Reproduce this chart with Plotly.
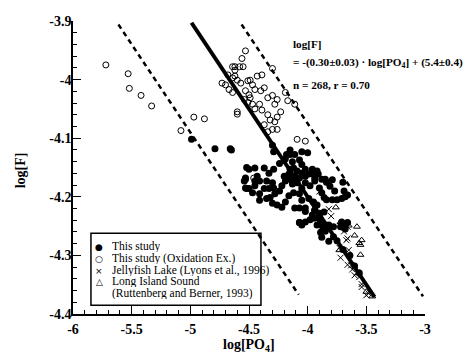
import plotly.graph_objects as go

# ---------------- data ----------------
this_study_x = [-4.99, -4.79, -4.65, -4.52, -4.53, -4.52, -4.66, -4.30, -4.29, -4.05, -4.00, -4.18, -4.15,
                -4.19, -4.15, -4.11, -4.13, -4.07, -4.05, -4.20, -4.24, -4.29, -4.33, -4.37, -4.45, -4.50,
                -4.53, -4.43, -4.41, -4.35, -4.30, -4.29, -4.33, -4.37, -4.41, -4.32, -4.28, -4.24, -4.22,
                -4.19, -4.20, -4.16, -4.15, -4.12, -4.09, -4.11, -4.15, -4.13, -4.09, -4.07, -4.05, -4.02,
                -3.99, -3.96, -3.92,
                -3.95, -3.91, -3.88, -3.84, -3.79, -3.70, -3.84, -3.79, -3.75, -3.71, -3.68,
                -4.02, -3.98, -3.94, -3.90, -3.88, -4.05, -4.07, -4.12, -4.16, -4.19, -4.22, -4.05,
                -3.99, -3.95, -3.92, -3.94, -3.90, -3.86, -3.96, -4.02, -4.07, -4.02, -3.98, -3.94, -3.89,
                -3.88, -3.92, -3.85, -3.89, -3.82, -3.78, -3.71, -3.68, -3.69, -3.66, -3.72, -3.88, -3.82,
                -4.54, -4.45, -4.50, -4.47, -4.35, -4.41, -4.30, -4.26, -4.53, -4.45, -4.11, -4.02, -3.94,
                -3.85, -3.81, -3.77, -3.69, -3.66, -3.86, -4.11, -4.07, -4.02, -3.94, -3.90, -3.95, -3.89,
                -3.85, -4.07, -4.05, -3.88, -3.71, -3.68,
                -3.64, -3.60, -3.70, -3.75, -3.78, -3.56]
this_study_y = [-4.102, -4.118, -4.120, -4.150, -4.170, -4.186, -4.118, -4.112, -4.123, -4.123, -4.125, -4.128, -4.128,
                -4.135, -4.120, -4.128, -4.140, -4.137, -4.145, -4.137, -4.143, -4.153, -4.160, -4.151, -4.151, -4.153,
                -4.168, -4.165, -4.173, -4.173, -4.176, -4.185, -4.186, -4.186, -4.195, -4.201, -4.195, -4.190, -4.181,
                -4.173, -4.165, -4.161, -4.153, -4.151, -4.156, -4.165, -4.170, -4.178, -4.176, -4.168, -4.160, -4.153,
                -4.161, -4.153, -4.156,
                -4.161, -4.161, -4.170, -4.175, -4.171, -4.175, -4.205, -4.205, -4.205, -4.203, -4.200,
                -4.176, -4.181, -4.173, -4.185, -4.193, -4.186, -4.195, -4.193, -4.198, -4.209, -4.218, -4.206,
                -4.203, -4.209, -4.214, -4.223, -4.228, -4.226, -4.231, -4.219, -4.244, -4.243, -4.239, -4.236, -4.239,
                -4.248, -4.248, -4.259, -4.261, -4.248, -4.251, -4.243, -4.248, -4.253, -4.244, -4.251, -4.269, -4.276,
                -4.173, -4.181, -4.186, -4.193, -4.203, -4.206, -4.211, -4.214, -4.185, -4.173, -4.168, -4.165, -4.168,
                -4.170, -4.182, -4.190, -4.190, -4.197, -4.201, -4.219, -4.219, -4.225, -4.223, -4.231, -4.236, -4.243,
                -4.248, -4.244, -4.248, -4.259, -4.248, -4.255,
                -4.300, -4.318, -4.290, -4.275, -4.268, -4.330]

oxidation_x = [-4.53, -4.56, -4.62, -4.64, -4.58, -4.55, -4.62, -4.68, -4.73, -4.70, -4.67, -4.64, -4.60,
               -4.57, -4.62, -4.64, -4.51, -4.49, -4.47, -4.43, -4.39, -4.30, -4.45, -4.40, -4.37, -4.53,
               -4.50, -4.49, -4.54, -4.51, -4.47, -4.45, -4.34, -4.30, -4.26, -4.28, -4.60, -4.41, -4.39,
               -4.34, -4.32, -4.28, -4.26, -4.23, -4.30, -4.26, -4.19, -4.17, -4.11, -4.37, -4.34, -4.02,
               -4.09, -5.08, -4.97, -4.88, -4.60, -5.72, -5.53, -5.52, -5.42, -5.33, -4.46]
oxidation_y = [-3.951, -3.964, -3.978, -3.978, -3.978, -3.978, -3.984, -3.992, -4.006, -4.009, -4.017, -4.022, -4.001,
               -4.006, -3.994, -3.997, -4.002, -4.001, -4.009, -3.994, -3.992, -3.981, -4.017, -4.019, -4.014, -4.019,
               -4.026, -4.031, -4.034, -4.039, -4.042, -4.050, -4.031, -4.027, -4.034, -4.042, -4.055, -4.042, -4.052,
               -4.060, -4.069, -4.072, -4.064, -4.055, -4.085, -4.085, -4.022, -4.036, -4.042, -4.077, -4.089, -4.105,
               -4.102, -4.087, -4.064, -4.067, -4.059, -3.975, -3.990, -4.015, -4.027, -4.045, -4.168]

jellyfish_x = [-3.90, -3.80, -3.71, -3.66, -3.69, -3.66, -3.65, -3.66, -3.62, -3.58, -3.56, -3.54,
               -3.54, -3.50, -3.60, -3.67, -3.63, -3.73, -3.72, -3.48, -3.82]
jellyfish_y = [-4.191, -4.233, -4.249, -4.251, -4.259, -4.271, -4.291, -4.316, -4.324, -4.329, -4.337, -4.349,
               -4.354, -4.368, -4.334, -4.274, -4.317, -4.287, -4.304, -4.365, -4.221]

lis_x = [-3.76, -3.65, -3.60, -3.56, -3.55, -3.69, -3.45, -3.50, -3.72, -3.58, -3.54, -3.55, -3.73]
lis_y = [-4.218, -4.249, -4.266, -4.279, -4.299, -4.291, -4.370, -4.362, -4.243, -4.251, -4.274, -4.282, -4.291]

# regression line and the two dashed bounds (end points)
fit_x = [-4.99, -3.43]
fit_y = [-3.903, -4.371]
lower_x = [-5.613, -4.077]
lower_y = [-3.906, -4.367]
upper_x = [-4.563, -3.017]
upper_y = [-3.906, -4.370]

x_ticks = [-6, -5.5, -5, -4.5, -4, -3.5, -3]
y_ticks = [-3.9, -4, -4.1, -4.2, -4.3, -4.4]

legend_labels = ["This study", "This study (Oxidation Ex.)", "Jellyfish Lake (Lyons et al., 1996)",
                 "Long Island Sound", "(Ruttenberg and Berner, 1993)"]
legend_glyphs = ["\u25cf", "\u25cb", "\u00d7", "\u25b3", ""]

SERIF = "Liberation Serif"

fig = go.Figure()
fig.add_trace(go.Scatter(x=oxidation_x, y=oxidation_y, mode="markers",
                         marker=dict(symbol="circle-open", size=6, color="black", line=dict(width=1)),
                         showlegend=False))
fig.add_trace(go.Scatter(x=this_study_x, y=this_study_y, mode="markers",
                         marker=dict(symbol="circle", size=7, color="black"), showlegend=False))
fig.add_trace(go.Scatter(x=jellyfish_x, y=jellyfish_y, mode="markers",
                         marker=dict(symbol="x-thin-open", size=6, color="black", line=dict(width=1, color="black")),
                         showlegend=False))
fig.add_trace(go.Scatter(x=lis_x, y=lis_y, mode="markers",
                         marker=dict(symbol="triangle-up-open", size=6, color="black", line=dict(width=1)),
                         showlegend=False))
for lx, ly in [(lower_x, lower_y), (upper_x, upper_y)]:
    fig.add_trace(go.Scatter(x=lx, y=ly, mode="lines", line=dict(color="black", width=2.5, dash="5px,4px"),
                             showlegend=False))
fig.add_trace(go.Scatter(x=fit_x, y=fit_y, mode="lines", line=dict(color="black", width=4), showlegend=False))

axis_common = dict(showgrid=False, zeroline=False, showline=True, linecolor="black", linewidth=1.5,
                   ticks="inside", ticklen=8, tickwidth=1.2, tickcolor="black", mirror=False,
                   ticklabeloverflow="allow",
                   tickfont=dict(family=SERIF, size=14, color="black", weight="bold"))
fig.update_xaxes(range=[-6, -3], tickvals=x_ticks, ticktext=[f"{v:g}" for v in x_ticks],
                 minor=dict(dtick=0.1, ticks="inside", ticklen=4, tickcolor="black", tickwidth=1),
                 ticklabelstandoff=1, **axis_common)
fig.update_yaxes(range=[-4.4, -3.9], tickvals=y_ticks, ticktext=[f"{v:g}" for v in y_ticks],
                 minor=dict(dtick=0.02, ticks="inside", ticklen=4, tickcolor="black", tickwidth=1),
                 ticklabelstandoff=-3, **axis_common)

ann = []
# axis titles
ann.append(dict(text="log[PO<sub>4</sub>]", x=0.50, y=-0.145, xref="paper", yref="paper",
                showarrow=False, font=dict(family=SERIF, size=14, weight="bold", color="black")))
ann.append(dict(text="log[F]", x=-0.175, y=0.49, xref="paper", yref="paper", textangle=-90,
                showarrow=False, font=dict(family=SERIF, size=14, weight="bold", color="black")))
# equation block
eq_lines = ["log[F]", "= -(0.30\u00b10.03) \u00b7 log[PO<sub>4</sub>] + (5.4\u00b10.4)", "n = 268, r = 0.70"]
eq_y = [0.922, 0.857, 0.78]
for t, yy in zip(eq_lines, eq_y):
    ann.append(dict(text=t, x=0.622, y=yy, xref="paper", yref="paper", xanchor="left",
                    yanchor="middle", showarrow=False, borderpad=0,
                    font=dict(family=SERIF, size=11.2, color="black", weight="bold")))
# legend box
leg_y = [0.229, 0.189, 0.150, 0.110, 0.070]
for g, t, yy in zip(legend_glyphs, legend_labels, leg_y):
    if g:
        ann.append(dict(text=g, x=0.074, y=yy, xref="paper", yref="paper", xanchor="center", yanchor="middle",
                        showarrow=False, borderpad=0, height=11,
                        font=dict(family="DejaVu Sans", size=9, color="black")))
    ann.append(dict(text=t, x=0.108, y=yy, xref="paper", yref="paper", xanchor="left", yanchor="middle",
                    showarrow=False, borderpad=0, height=11,
                    font=dict(family=SERIF, size=11.5, color="black")))
fig.update_layout(annotations=ann,
                  shapes=[dict(type="rect", xref="paper", yref="paper", x0=0.051, x1=0.534, y0=0.030, y1=0.276,
                               line=dict(color="black", width=1.5), fillcolor="white", layer="below")])

fig.update_layout(width=474, height=363, margin=dict(l=65, r=57, t=6, b=57),
                  paper_bgcolor="white", plot_bgcolor="white")
fig.write_html("out.html")
